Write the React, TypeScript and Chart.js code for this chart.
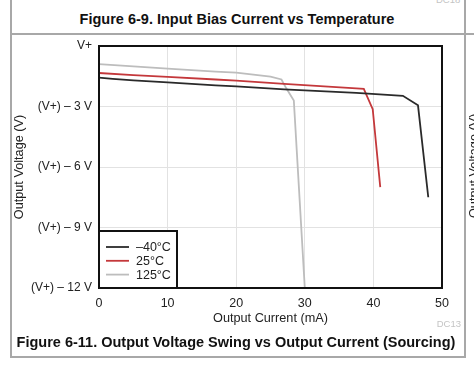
import React, { useEffect, useRef } from "react";
import { Chart, registerables } from "chart.js";

Chart.register(...registerables);

// ---- data ----
const xTickValues = [0, 10, 20, 30, 40, 50];
const yTickValues = [0, -3, -6, -9, -12];
const yTickLabels = ["V+", "(V+) – 3 V", "(V+) – 6 V", "(V+) – 9 V", "(V+) – 12 V"];

const seriesLabels = ["–40°C", "25°C", "125°C"];

const currentM40 = [0, 2, 5, 10, 17, 20, 27, 37.5, 44.3, 46.5, 48.0];
const voltageM40 = [-1.57, -1.63, -1.7, -1.8, -1.95, -2.0, -2.15, -2.32, -2.47, -2.94, -7.5];

const current25 = [0, 5, 10, 17, 20, 27, 37.5, 38.6, 39.9, 41.0];
const voltage25 = [-1.34, -1.44, -1.53, -1.66, -1.72, -1.88, -2.1, -2.13, -3.13, -7.0];

const current125 = [0, 5, 10, 17, 20, 25, 26.6, 27.3, 28.4, 30.0];
const voltage125 = [-0.9, -1.01, -1.12, -1.27, -1.32, -1.52, -1.66, -2.1, -2.7, -12];

const FONT = "'Liberation Sans', Arial, Helvetica, sans-serif";
const lineColors = ["#2a2a2a", "#c4383b", "#bdbdbd"];

const toPoints = (xs: number[], ys: number[]) => xs.map((x, i) => ({ x, y: ys[i] }));

const framePlugin = {
  id: "frameLegend",
  afterDraw(chart: any) {
    const { ctx, chartArea: a } = chart;
    ctx.save();
    // legend box
    const lx = a.left;
    const ly = 231;
    const lw = 78;
    const lh = a.bottom - ly;
    ctx.fillStyle = "#fff";
    ctx.fillRect(lx, ly, lw, lh);
    ctx.strokeStyle = "#111";
    ctx.lineWidth = 2;
    ctx.strokeRect(lx, ly, lw, lh);
    ctx.font = `12.5px ${FONT}`;
    ctx.textBaseline = "middle";
    ctx.textAlign = "left";
    chart.data.datasets.forEach((ds: any, i: number) => {
      const y = ly + 16 + i * 13.8;
      ctx.strokeStyle = ds.borderColor;
      ctx.lineWidth = 1.8;
      ctx.beginPath();
      ctx.moveTo(lx + 7, y);
      ctx.lineTo(lx + 30, y);
      ctx.stroke();
      ctx.fillStyle = "#222";
      ctx.fillText(ds.label, lx + 37, y + 0.5);
    });
    // plot frame
    ctx.strokeStyle = "#111";
    ctx.lineWidth = 2;
    ctx.strokeRect(a.left, a.top, a.right - a.left, a.bottom - a.top);
    ctx.restore();
  },
};

export default function App() {
  const ref = useRef<HTMLCanvasElement>(null);

  useEffect(() => {
    if (!ref.current) return;
    const chart = new Chart(ref.current, {
      type: "line",
      data: {
        datasets: [
          { label: seriesLabels[0], data: toPoints(currentM40, voltageM40), borderColor: lineColors[0] },
          { label: seriesLabels[1], data: toPoints(current25, voltage25), borderColor: lineColors[1] },
          { label: seriesLabels[2], data: toPoints(current125, voltage125), borderColor: lineColors[2] },
        ].map((d) => ({ ...d, borderWidth: 1.8, pointRadius: 0, tension: 0, fill: false })),
      },
      options: {
        animation: false,
        responsive: false,
        layout: { padding: { left: 10, right: 32, top: 46, bottom: 37 } },
        plugins: { legend: { display: false }, tooltip: { enabled: false } },
        scales: {
          x: {
            type: "linear",
            min: 0,
            max: 50,
            afterBuildTicks: (s: any) => {
              s.ticks = xTickValues.map((v) => ({ value: v }));
            },
            afterFit: (s: any) => {
              s.height = 42;
            },
            ticks: { font: { size: 12.5, family: FONT }, color: "#222", padding: 8 },
            grid: { color: "#e2e2e2", lineWidth: 1, drawTicks: false },
            border: { display: false },
            title: {
              display: true,
              text: "Output Current (mA)",
              font: { size: 12.7, family: FONT },
              color: "#222",
              padding: { top: 0, bottom: 4 },
            },
          },
          y: {
            type: "linear",
            min: -12,
            max: 0,
            afterBuildTicks: (s: any) => {
              s.ticks = yTickValues.map((v) => ({ value: v }));
            },
            afterFit: (s: any) => {
              s.width = 89;
            },
            ticks: {
              font: { size: 12, family: FONT },
              color: "#222",
              padding: 7,
              callback: (v: any) => {
                const i = yTickValues.indexOf(Number(v));
                return i >= 0 ? yTickLabels[i] : "";
              },
            },
            grid: { color: "#e2e2e2", lineWidth: 1, drawTicks: false },
            border: { display: false },
            title: {
              display: true,
              text: "Output Voltage (V)",
              font: { size: 12.7, family: FONT },
              color: "#222",
              padding: { top: 2, bottom: 0 },
            },
          },
        },
      },
      plugins: [framePlugin],
    } as any);
    return () => chart.destroy();
  }, []);

  const caption: React.CSSProperties = {
    position: "absolute",
    left: 0,
    width: 474,
    textAlign: "center",
    fontFamily: FONT,
    fontWeight: "bold",
    fontSize: 14.5,
    color: "#111",
    lineHeight: "18px",
    whiteSpace: "nowrap",
  };
  const line = (s: React.CSSProperties): React.CSSProperties => ({
    position: "absolute",
    background: "#a8a8a8",
    ...s,
  });

  return (
    <div style={{ position: "fixed", left: 0, top: 0, width: 474, height: 367, background: "#fff", overflow: "hidden" }}>
      <div style={{ ...caption, top: 10 }}>Figure 6-9. Input Bias Current vs Temperature</div>
      <div
        style={{
          position: "absolute",
          left: 436,
          top: -6,
          fontFamily: FONT,
          fontSize: 9.5,
          color: "#c4c4c4",
        }}
      >
        DC18
      </div>
      <canvas ref={ref} width={474} height={367} style={{ position: "absolute", left: 0, top: 0 }} />
      <div style={{ ...caption, top: 333, left: -1 }}>
        Figure 6-11. Output Voltage Swing vs Output Current (Sourcing)
      </div>
      <div
        style={{
          position: "absolute",
          right: 13,
          top: 318,
          fontFamily: FONT,
          fontSize: 9.5,
          color: "#c4c4c4",
        }}
      >
        DC13
      </div>
      <div
        style={{
          position: "absolute",
          left: 467,
          top: 218,
          transformOrigin: "0 0",
          transform: "rotate(-90deg)",
          fontFamily: FONT,
          fontSize: 12.7,
          lineHeight: "15px",
          color: "#222",
          whiteSpace: "nowrap",
        }}
      >
        Output Voltage (V)
      </div>
      <div style={line({ left: 10, top: 0, width: 1.6, height: 358 })} />
      <div style={line({ left: 464, top: 0, width: 1.6, height: 358 })} />
      <div style={line({ left: 10, top: 33, width: 464, height: 1.6 })} />
      <div style={line({ left: 10, top: 356, width: 455, height: 1.6 })} />
    </div>
  );
}
